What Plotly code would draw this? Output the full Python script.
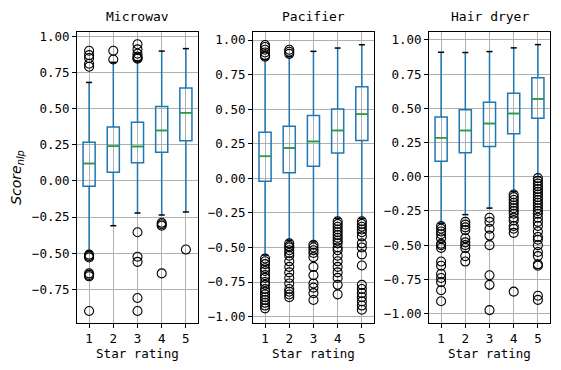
import plotly.graph_objects as go
from plotly.subplots import make_subplots

ratings = [1, 2, 3, 4, 5]
panel_titles = ["Microwav", "Pacifier", "Hair dryer"]

# Microwave
mw_q1 = [-0.037, 0.06, 0.125, 0.199, 0.277]
mw_med = [0.12, 0.24, 0.238, 0.349, 0.471]
mw_q3 = [0.268, 0.372, 0.406, 0.515, 0.642]
mw_low = [-0.49, -0.31, -0.222, -0.236, -0.215]
mw_high = [0.681, 0.82, 0.83, 0.898, 0.915]
mw_out = [
    [0.90, 0.87, 0.85, 0.81, 0.79, -0.51, -0.52, -0.53, -0.64, -0.65, -0.66, -0.90],
    [0.90, 0.84],
    [0.945, 0.91, 0.88, 0.86, 0.85, 0.845, -0.355, -0.525, -0.56, -0.81, -0.90],
    [-0.29, -0.30, -0.31, -0.64],
    [-0.475],
]

# Pacifier
pc_q1 = [-0.022, 0.041, 0.087, 0.183, 0.274]
pc_med = [0.159, 0.219, 0.267, 0.346, 0.464]
pc_q3 = [0.334, 0.377, 0.454, 0.502, 0.663]
pc_low = [-0.555, -0.45, -0.46, -0.29, -0.29]
pc_high = [0.86, 0.88, 0.918, 0.942, 0.966]
pc_out = [
    [0.964, 0.95, 0.93, 0.91, 0.89, 0.88, -0.58, -0.60, -0.62, -0.65, -0.67, -0.70,
     -0.72, -0.75, -0.77, -0.80, -0.82, -0.84, -0.86, -0.88, -0.90, -0.92, -0.94],
    [0.93, 0.915, 0.90, -0.47, -0.49, -0.50, -0.52, -0.54, -0.56, -0.60, -0.64,
     -0.68, -0.72, -0.76, -0.80, -0.82, -0.84, -0.86],
    [-0.48, -0.50, -0.52, -0.54, -0.57, -0.64, -0.70, -0.76, -0.79, -0.83, -0.88],
    [-0.31, -0.33, -0.35, -0.37, -0.39, -0.41, -0.43, -0.45, -0.47, -0.50, -0.52,
     -0.56, -0.60, -0.64, -0.68, -0.72, -0.77, -0.839],
    [-0.31, -0.33, -0.35, -0.37, -0.39, -0.42, -0.47, -0.50, -0.55, -0.63, -0.77,
     -0.80, -0.83, -0.86, -0.89, -0.92, -0.95],
]

# Hair dryer
hd_q1 = [0.114, 0.175, 0.221, 0.314, 0.428]
hd_med = [0.285, 0.338, 0.389, 0.462, 0.569]
hd_q3 = [0.436, 0.489, 0.545, 0.611, 0.723]
hd_low = [-0.34, -0.277, -0.229, -0.11, 0.0]
hd_high = [0.91, 0.908, 0.915, 0.942, 0.966]
hd_out = [
    [-0.36, -0.38, -0.40, -0.42, -0.45, -0.49, -0.50, -0.52, -0.62, -0.65, -0.71,
     -0.74, -0.77, -0.83, -0.91],
    [-0.33, -0.35, -0.37, -0.39, -0.45, -0.48, -0.50, -0.52, -0.58, -0.62],
    [-0.30, -0.33, -0.38, -0.43, -0.50, -0.72, -0.79, -0.975],
    [-0.13, -0.15, -0.17, -0.19, -0.21, -0.23, -0.25, -0.27, -0.30, -0.32, -0.36,
     -0.38, -0.41, -0.84],
    [-0.01, -0.03, -0.05, -0.07, -0.09, -0.11, -0.13, -0.15, -0.17, -0.19, -0.21,
     -0.23, -0.25, -0.27, -0.30, -0.33, -0.36, -0.40, -0.44, -0.46, -0.50, -0.55,
     -0.58, -0.64, -0.65, -0.87, -0.90],
]

panels = [
    (mw_q1, mw_med, mw_q3, mw_low, mw_high, mw_out),
    (pc_q1, pc_med, pc_q3, pc_low, pc_high, pc_out),
    (hd_q1, hd_med, hd_q3, hd_low, hd_high, hd_out),
]
y_ranges = [[-0.983, 1.03], [-1.046, 1.058], [-1.069, 1.058]]
y_ticks = [
    [-0.75, -0.5, -0.25, 0, 0.25, 0.5, 0.75, 1.0],
    [-1.0, -0.75, -0.5, -0.25, 0, 0.25, 0.5, 0.75, 1.0],
    [-1.0, -0.75, -0.5, -0.25, 0, 0.25, 0.5, 0.75, 1.0],
]

BLUE = "#1f77b4"
GREEN = "#2ca02c"
BOXW = 0.5
CAPW = 0.25
TICKFONT = dict(family="DejaVu Sans Mono", size=12.5, color="black")


def fmt(v):
    s = f"{abs(v):.2f}"
    return ("\u2212" + s) if v < 0 else s


fig = make_subplots(rows=1, cols=3, horizontal_spacing=0.05)
domains = [[0, 0.2558], [0.372, 0.6278], [0.7442, 1.0]]

for i, (q1, med, q3, lo, hi, outs) in enumerate(panels):
    col = i + 1
    fig.add_trace(go.Box(
        x=ratings, q1=q1, median=med, q3=q3, lowerfence=lo, upperfence=hi,
        width=BOXW, whiskerwidth=0, boxpoints=False,
        line=dict(color=BLUE, width=1.5), fillcolor="rgba(0,0,0,0)",
        hoverinfo="skip", showlegend=False), row=1, col=col)
    # medians
    mx, my = [], []
    for r, m in zip(ratings, med):
        mx += [r - BOXW / 2, r + BOXW / 2, None]
        my += [m, m, None]
    fig.add_trace(go.Scatter(x=mx, y=my, mode="lines",
                             line=dict(color=GREEN, width=1.5),
                             showlegend=False, hoverinfo="skip"), row=1, col=col)
    # caps
    cx, cy = [], []
    for r, a, b in zip(ratings, lo, hi):
        for v in (a, b):
            cx += [r - CAPW / 2, r + CAPW / 2, None]
            cy += [v, v, None]
    fig.add_trace(go.Scatter(x=cx, y=cy, mode="lines",
                             line=dict(color="black", width=1.5),
                             showlegend=False, hoverinfo="skip"), row=1, col=col)
    # outliers
    ox, oy = [], []
    for r, vals in zip(ratings, outs):
        ox += [r] * len(vals)
        oy += vals
    fig.add_trace(go.Scatter(x=ox, y=oy, mode="markers",
                             marker=dict(symbol="circle-open", color="black", size=9,
                                         line=dict(width=1.1, color="black")),
                             showlegend=False, hoverinfo="skip"), row=1, col=col)

    xa = "xaxis" if i == 0 else f"xaxis{col}"
    ya = "yaxis" if i == 0 else f"yaxis{col}"
    fig.layout[xa].update(
        domain=domains[i], range=[0.5, 5.5], tickmode="array", tickvals=ratings,
        ticktext=[str(r) for r in ratings], showgrid=True, gridcolor="#b0b0b0",
        gridwidth=0.8, zeroline=False, showline=True, linecolor="black",
        linewidth=1, mirror=True, ticks="outside", ticklen=4, tickcolor="black",
        title=dict(text="Star rating", standoff=1,
                   font=dict(family="DejaVu Sans Mono", size=12.5, color="black")),
        tickfont=TICKFONT)
    fig.layout[ya].update(
        range=y_ranges[i], tickmode="array", tickvals=y_ticks[i],
        ticktext=[fmt(v) for v in y_ticks[i]], showgrid=True,
        gridcolor="#b0b0b0", gridwidth=0.8, zeroline=False, showline=True,
        linecolor="black", linewidth=1, mirror=True, ticks="outside", ticklen=4,
        tickcolor="black", tickfont=TICKFONT)
    fig.add_annotation(text=panel_titles[i], x=sum(domains[i]) / 2, y=1.0,
                       xref="paper", yref="paper", xanchor="center", yanchor="bottom",
                       yshift=6, showarrow=False,
                       font=dict(family="DejaVu Sans Mono", size=13, color="black"))

fig.layout.yaxis.title = dict(text="<i>Score</i><sub><i>nlp</i></sub>", standoff=6,
                              font=dict(family="DejaVu Sans", size=14, color="black"))

fig.update_layout(width=561, height=370, margin=dict(l=77, r=11, t=32, b=47),
                  paper_bgcolor="white", plot_bgcolor="white", showlegend=False)

fig.write_html("out.html", config={"displayModeBar": False},
               post_script="document.body.style.margin='0';document.body.style.padding='0';")
